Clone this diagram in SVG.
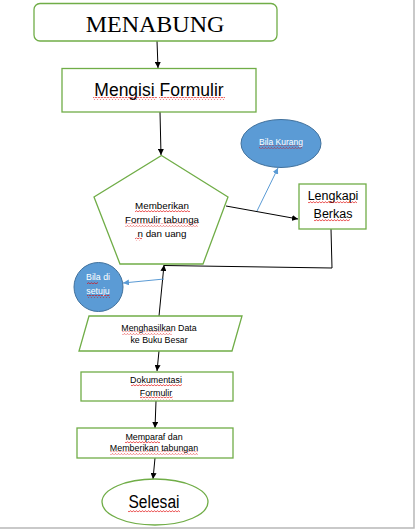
<svg xmlns="http://www.w3.org/2000/svg" width="415" height="529" viewBox="0 0 415 529">
<defs>
<style>
.g{fill:#fff;stroke:#70ad47;stroke-width:1.3}
.b{fill:#5b9bd5;stroke:#41719c;stroke-width:1}
.ln{fill:none;stroke:#000;stroke-width:1}
.bl{fill:none;stroke:#5b9bd5;stroke-width:1}
.t{font-family:"Liberation Sans",Arial,sans-serif;fill:#000;text-anchor:middle}
.w{font-family:"Liberation Sans",Arial,sans-serif;fill:#fff;text-anchor:middle}
.sq{fill:url(#wave)}
.edge{stroke:#b8b8b8;stroke-width:1.5;fill:none}
</style>
<pattern id="wave" width="3" height="3" patternUnits="userSpaceOnUse">
<path d="M0,2.2 L1.5,0.6 L3,2.2" fill="none" stroke="#e00000" stroke-width="0.7"/>
</pattern>
<marker id="ah" viewBox="0 0 10 10" refX="10" refY="5" markerWidth="6" markerHeight="6" orient="auto-start-reverse" markerUnits="userSpaceOnUse">
<path d="M0,0 L10,5 L0,10 z" fill="#000"/>
</marker>
<marker id="ahb" viewBox="0 0 10 10" refX="10" refY="5" markerWidth="6" markerHeight="6" orient="auto" markerUnits="userSpaceOnUse">
<path d="M0,0 L10,5 L0,10 z" fill="#5b9bd5"/>
</marker>
</defs>
<rect width="415" height="529" fill="#fff"/>
<polyline class="edge" points="414,0 414,528 0,528"/>

<g id="connectors">
<line class="ln" x1="157" y1="41" x2="158" y2="68" marker-end="url(#ah)"/>
<line class="ln" x1="160" y1="112" x2="161" y2="155" marker-end="url(#ah)"/>
<line class="ln" x1="226" y1="206" x2="298" y2="219" marker-end="url(#ah)"/>
<line class="bl" x1="257" y1="211" x2="278" y2="168" marker-end="url(#ahb)"/>
<polyline class="ln" points="331,229 332,268 164,265.5"/>
<line class="ln" x1="159" y1="316" x2="164" y2="265" marker-end="url(#ah)"/>
<line class="bl" x1="164" y1="279" x2="123" y2="283" marker-end="url(#ahb)"/>
<line class="ln" x1="159" y1="351" x2="157" y2="371" marker-end="url(#ah)"/>
<line class="ln" x1="156" y1="401" x2="155" y2="428" marker-end="url(#ah)"/>
<line class="ln" x1="155" y1="458" x2="153" y2="479" marker-end="url(#ah)"/>
</g>

<g id="menabung">
<rect class="g" x="34" y="3.5" width="243" height="37.5" rx="6"/>
<text x="155" y="32" font-family="'Liberation Serif','Times New Roman',serif" font-size="24" text-anchor="middle" fill="#000">MENABUNG</text>
</g>

<g id="mengisi">
<rect class="g" x="62" y="68.5" width="194" height="43.5"/>
<text class="t" x="159" y="96" font-size="17.5">Mengisi Formulir</text>
<rect class="sq" x="93" y="97" width="64" height="3"/>
<rect class="sq" x="159" y="97" width="66" height="3"/>
</g>

<g id="memberikan">
<polygon class="g" points="161.5,155.5 228,197 203,264 120,264 94,197"/>
<text class="t" x="162" y="209" font-size="9.8" fill="#333">Memberikan</text>
<text class="t" x="162" y="223" font-size="9.8" fill="#333">Formulir tabunga</text>
<text class="t" x="162" y="237" font-size="9.8" fill="#333">n dan uang</text>
<rect class="sq" x="135" y="209.5" width="55" height="3"/>
<rect class="sq" x="125" y="223.5" width="73" height="3"/>
<rect class="sq" x="135" y="237.5" width="7" height="3"/>
</g>

<g id="bila-kurang">
<ellipse class="b" cx="281" cy="143.5" rx="40" ry="24"/>
<text class="w" x="281" y="145" font-size="8.5">Bila Kurang</text>
<rect class="sq" x="259" y="145.5" width="43" height="3"/>
</g>

<g id="lengkapi">
<rect class="g" x="299" y="184" width="67" height="45"/>
<text class="t" x="333" y="200" font-size="12.5">Lengkapi</text>
<text class="t" x="333" y="218" font-size="12.5">Berkas</text>
<rect class="sq" x="308" y="201" width="49" height="3"/>
<rect class="sq" x="314" y="219" width="36" height="3"/>
</g>

<g id="bila-setuju">
<circle class="b" cx="98.5" cy="287" r="24.5"/>
<text class="w" x="98" y="280" font-size="8.8">Bila di</text>
<text class="w" x="98" y="294" font-size="8.8">setuju</text>
<rect class="sq" x="87" y="281" width="11" height="3"/>
<rect class="sq" x="87" y="295" width="23" height="3"/>
</g>

<g id="menghasilkan">
<polygon class="g" points="89,316 242,316 232,351 79,351"/>
<text class="t" x="159" y="331" font-size="8.8">Menghasilkan Data</text>
<text class="t" x="159" y="343" font-size="8.8">ke Buku Besar</text>
<rect class="sq" x="122" y="331.5" width="50" height="3"/>
</g>

<g id="dokumentasi">
<rect class="g" x="81" y="372" width="152" height="29"/>
<text class="t" x="156" y="383" font-size="8.9">Dokumentasi</text>
<text class="t" x="156" y="396" font-size="8.9">Formulir</text>
<rect class="sq" x="131" y="383.5" width="51" height="3"/>
<rect class="sq" x="140" y="396.5" width="33" height="3"/>
</g>

<g id="memparaf">
<rect class="g" x="77" y="428" width="156" height="30"/>
<text class="t" x="154" y="440" font-size="8.9">Memparaf dan</text>
<text class="t" x="154" y="451" font-size="8.9">Memberikan tabungan</text>
<rect class="sq" x="125" y="440.5" width="35" height="3"/>
<rect class="sq" x="110" y="451.5" width="88" height="3"/>
</g>

<g id="selesai">
<ellipse class="g" cx="155" cy="502" rx="53" ry="23"/>
<text class="t" x="154" y="508" font-size="18" textLength="51" lengthAdjust="spacingAndGlyphs">Selesai</text>
<rect class="sq" x="128" y="510" width="52" height="3"/>
</g>
</svg>
